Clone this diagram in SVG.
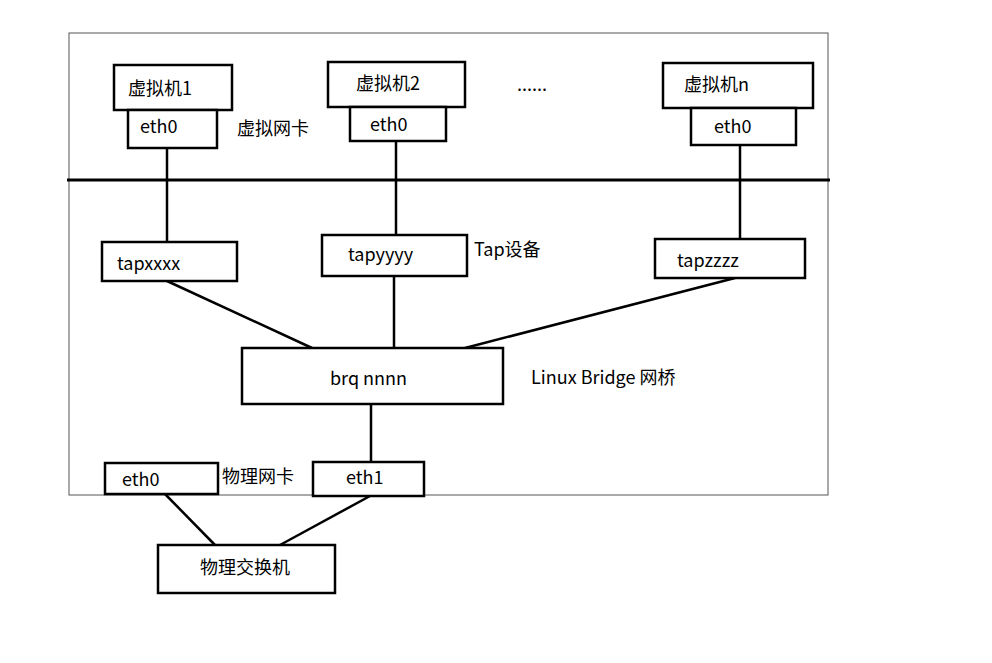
<svg xmlns="http://www.w3.org/2000/svg" width="992" height="663" viewBox="0 0 992 663">
<style>
.b{fill:#fff;stroke:#000;stroke-width:2.5}
text{font-family:"Noto Sans CJK SC","Liberation Sans",sans-serif;font-size:18px;fill:#000;dominant-baseline:middle}
.c{text-anchor:middle}
.l{stroke:#000;stroke-width:2.5;fill:none}
</style>
<rect width="992" height="663" fill="#fff"/>
<rect x="69" y="33" width="759" height="462" fill="none" stroke="#555" stroke-width="1"/>
<line x1="67" y1="180" x2="830" y2="180" stroke="#000" stroke-width="3"/>
<g id="connectors">
<line class="l" x1="167" y1="148" x2="167" y2="242"/>
<line class="l" x1="396" y1="141" x2="396" y2="235"/>
<line class="l" x1="740" y1="145" x2="740" y2="239"/>
<line class="l" x1="167" y1="281" x2="312" y2="348"/>
<line class="l" x1="394" y1="276" x2="394" y2="348"/>
<line class="l" x1="735" y1="278" x2="465" y2="348"/>
<line class="l" x1="371" y1="404" x2="371" y2="462"/>
<line class="l" x1="165" y1="494" x2="215" y2="545"/>
<line class="l" x1="370" y1="496" x2="280" y2="545"/>
</g>
<g id="vm1"><rect class="b" x="114" y="65" width="118" height="45"/><text x="128" y="90">虚拟机1</text></g>
<g id="vm1eth0"><rect class="b" x="128" y="110" width="89" height="38"/><text x="140" y="128">eth0</text></g>
<g id="vm2"><rect class="b" x="328" y="62" width="137" height="45"/><text x="356" y="85">虚拟机2</text></g>
<g id="vm2eth0"><rect class="b" x="350" y="107" width="96" height="34"/><text x="370" y="126">eth0</text></g>
<g id="vmn"><rect class="b" x="663" y="63" width="150" height="45"/><text x="684" y="86">虚拟机n</text></g>
<g id="vmneth0"><rect class="b" x="691" y="108" width="105" height="37"/><text x="714" y="128">eth0</text></g>
<text x="517" y="86">......</text>
<text x="237" y="130">虚拟网卡</text>
<g id="tapx"><rect class="b" x="102" y="242" width="135" height="39"/><text x="117" y="265">tapxxxx</text></g>
<g id="tapy"><rect class="b" x="322" y="235" width="145" height="41"/><text x="348" y="256">tapyyyy</text></g>
<g id="tapz"><rect class="b" x="655" y="239" width="150" height="39"/><text x="677" y="262">tapzzzz</text></g>
<text x="474" y="251">Tap设备</text>
<g id="bridge"><rect class="b" x="242" y="348" width="261" height="56"/><text x="330" y="380">brq nnnn</text></g>
<text x="531" y="379">Linux Bridge 网桥</text>
<g id="peth0"><rect class="b" x="105" y="463" width="113" height="31"/><text x="122" y="481">eth0</text></g>
<text x="222" y="478">物理网卡</text>
<g id="peth1"><rect class="b" x="313" y="462" width="111" height="34"/><text x="346" y="479">eth1</text></g>
<g id="switch"><rect class="b" x="158" y="545" width="177" height="48"/><text x="200" y="569">物理交换机</text></g>
</svg>
